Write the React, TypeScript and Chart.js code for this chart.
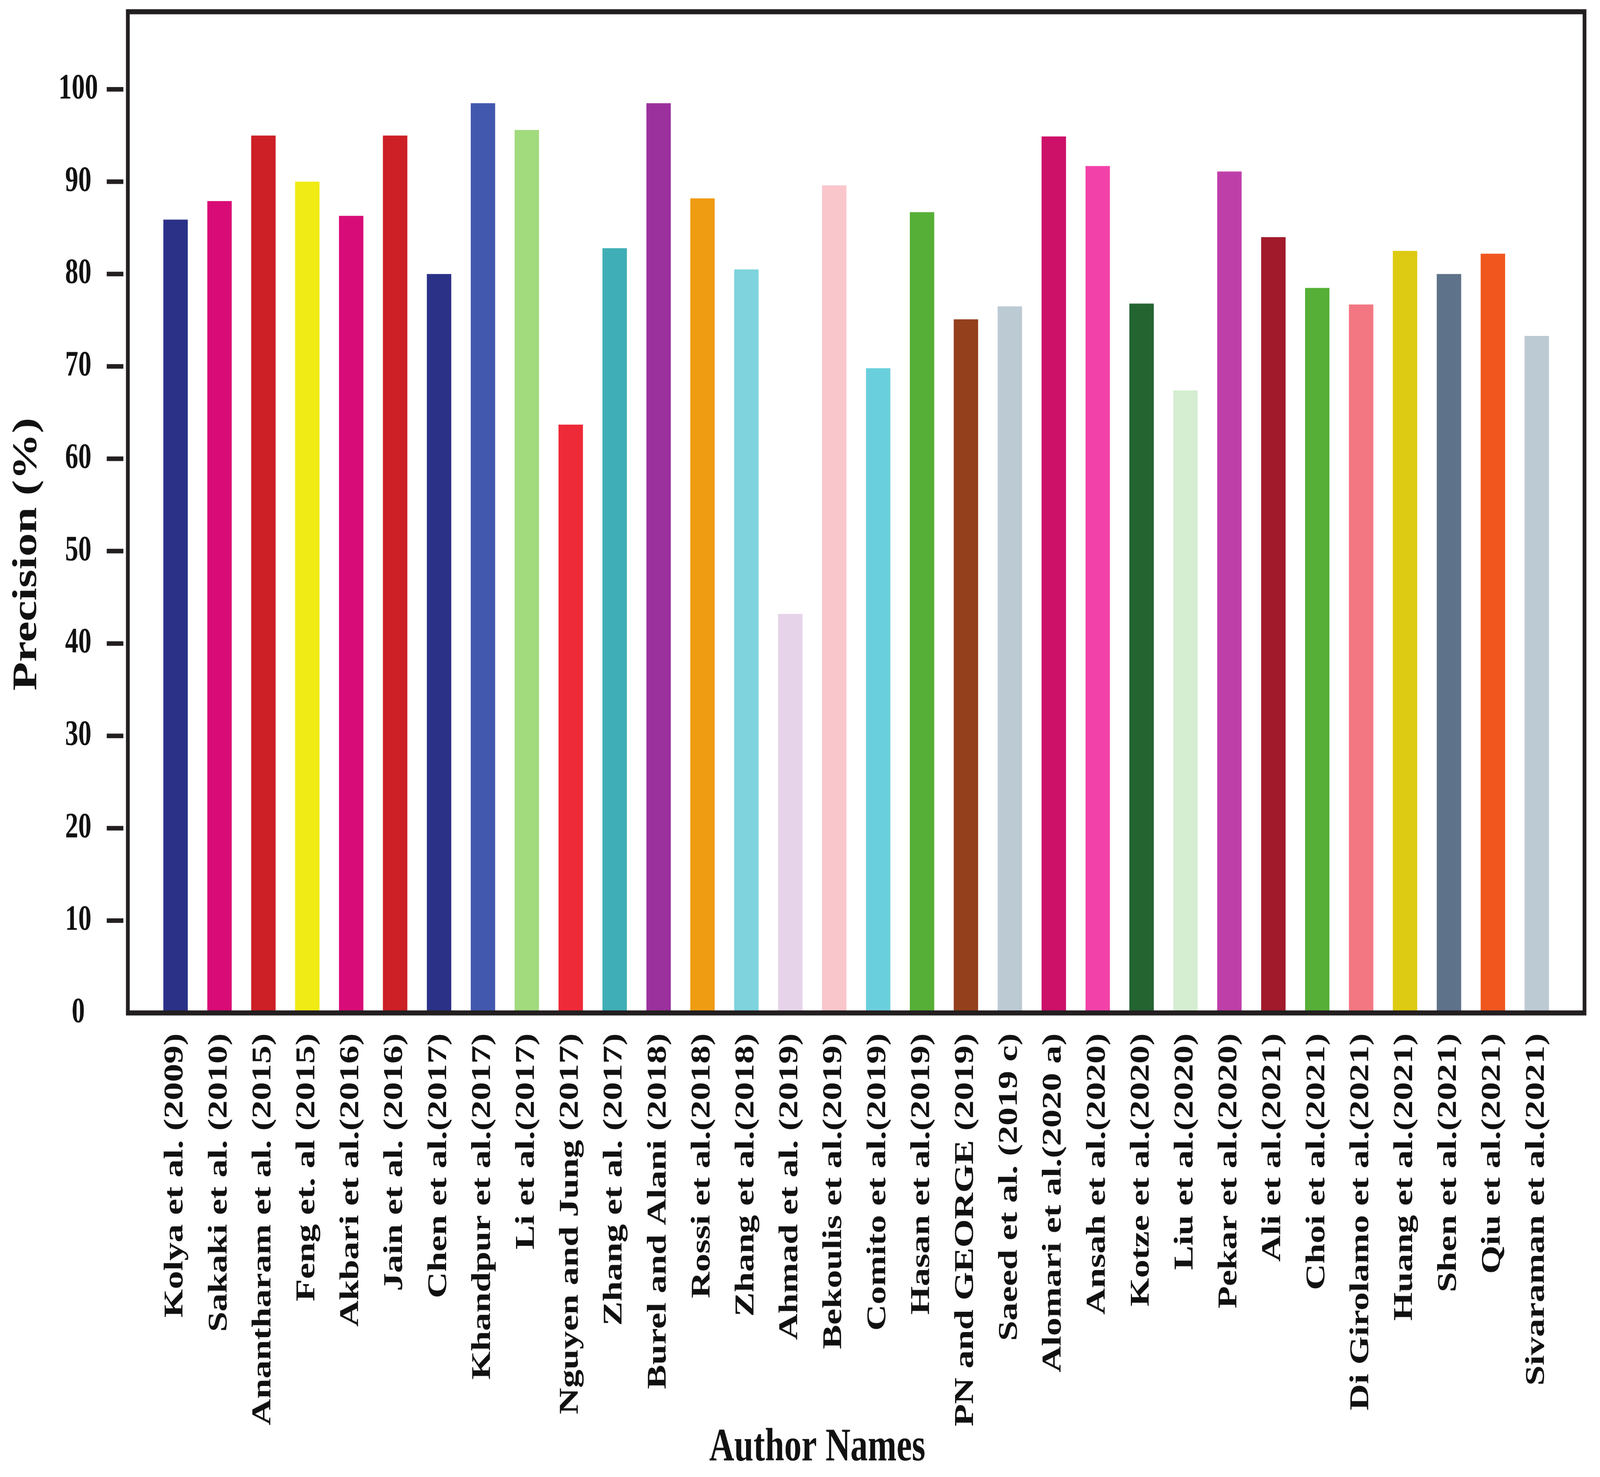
import React, { useEffect, useRef, useState } from "react";
import { Chart, registerables } from "chart.js";

Chart.register(...registerables);

const AUTHORS = [
  "Kolya et al. (2009)",
  "Sakaki et al. (2010)",
  "Anantharam et al. (2015)",
  "Feng et. al (2015)",
  "Akbari et al.(2016)",
  "Jain et al. (2016)",
  "Chen et al.(2017)",
  "Khandpur et al.(2017)",
  "Li et al.(2017)",
  "Nguyen and Jung (2017)",
  "Zhang et al. (2017)",
  "Burel and Alani (2018)",
  "Rossi et al.(2018)",
  "Zhang et al.(2018)",
  "Ahmad et al. (2019)",
  "Bekoulis et al.(2019)",
  "Comito et al.(2019)",
  "Hasan et al.(2019)",
  "PN and GEORGE (2019)",
  "Saeed et al. (2019 c)",
  "Alomari et al.(2020 a)",
  "Ansah et al.(2020)",
  "Kotze et al.(2020)",
  "Liu et al.(2020)",
  "Pekar et al.(2020)",
  "Ali et al.(2021)",
  "Choi et al.(2021)",
  "Di Girolamo et al.(2021)",
  "Huang et al.(2021)",
  "Shen et al.(2021)",
  "Qiu et al.(2021)",
  "Sivaraman et al.(2021)",
];

const PRECISION = [
  85.9, 87.9, 95.0, 90.0, 86.3, 95.0, 80.0, 98.5, 95.6, 63.7, 82.8, 98.5, 88.2,
  80.5, 43.2, 89.6, 69.8, 86.7, 75.1, 76.5, 94.9, 91.7, 76.8, 67.4, 91.1, 84.0,
  78.5, 76.7, 82.5, 80.0, 82.2, 73.3,
];

const BAR_COLORS = [
  "#2B3187", "#D90B76", "#CC1F26", "#F0EB14", "#D80C78", "#CC1F26", "#2B3187",
  "#4258AF", "#A2DA7E", "#EE2A38", "#40AEB6", "#9B319C", "#EF9C13", "#7ED3DC",
  "#E6D3E9", "#F9C6CC", "#6ACFDD", "#56AF36", "#94401D", "#BCCAD3", "#CD1068",
  "#F242A9", "#236431", "#D5EDD1", "#BE3FA8", "#A01A2B", "#56AF36", "#F27782",
  "#DDCA12", "#5E7289", "#F1561E", "#BCCAD3",
];

const Y_TICKS = [0, 10, 20, 30, 40, 50, 60, 70, 80, 90, 100];

const Y_TITLE = "Precision (%)";
const X_TITLE = "Author Names";

const SERIF = '"Liberation Serif", "Times New Roman", "DejaVu Serif", serif';
const INK = "#231F20";
const TEXT = "#111111";

const W = 4256;
const H_OUT = 3781;
const H = 2908;
const SY = H_OUT / H;

const AREA_LEFT = 408.6;
const AREA_RIGHT_PAD = 109.8;
const AREA_TOP = 23.1;
const AREA_BOTTOM = 1994.3;
const FRAME_GAP = 68.6;

const framePlugin = {
  id: "framePlugin",
  afterDraw(chart: any) {
    const { ctx, chartArea, scales } = chart;
    const yScale = scales.y;
    const left = chartArea.left - FRAME_GAP;
    const right = chartArea.right + FRAME_GAP;
    const top = chartArea.top;
    const bottom = chartArea.bottom;
    ctx.save();
    ctx.strokeStyle = INK;
    ctx.lineWidth = 10;
    ctx.lineJoin = "miter";
    ctx.strokeRect(left, top, right - left, bottom - top);

    ctx.lineWidth = 9;
    ctx.lineCap = "butt";
    for (const t of yScale.ticks) {
      if (t.value === 0) continue;
      const py = yScale.getPixelForValue(t.value);
      ctx.beginPath();
      ctx.moveTo(left - 56, py);
      ctx.lineTo(left - 12, py);
      ctx.stroke();
    }

    ctx.fillStyle = TEXT;
    ctx.font = `bold 92px ${SERIF}`;
    ctx.save();
    ctx.translate(72, 1091);
    ctx.rotate(-Math.PI / 2);
    ctx.textAlign = "center";
    ctx.textBaseline = "middle";
    ctx.fillText(Y_TITLE, 0, 0);
    ctx.restore();
    ctx.textAlign = "center";
    ctx.textBaseline = "alphabetic";
    ctx.fillText(X_TITLE, 2174, 2875);
    ctx.restore();
  },
};

function viewport() {
  if (typeof window === "undefined") return { w: W, h: H_OUT };
  const w = document.documentElement.clientWidth || window.innerWidth || W;
  const h = window.innerHeight || document.documentElement.clientHeight || H_OUT;
  return { w, h };
}

export default function App() {
  const canvasRef = useRef<HTMLCanvasElement | null>(null);
  const [vp, setVp] = useState(viewport());

  useEffect(() => {
    document.body.style.margin = "0";
    document.body.style.overflow = "hidden";
    document.documentElement.style.overflow = "hidden";
    setVp(viewport());
    const canvas = canvasRef.current;
    if (!canvas) return;
    const chart = new Chart(canvas, {
      type: "bar",
      data: {
        labels: AUTHORS,
        datasets: [
          {
            data: PRECISION,
            backgroundColor: BAR_COLORS,
            borderWidth: 0,
            barPercentage: 0.556,
            categoryPercentage: 1,
          },
        ],
      },
      options: {
        responsive: false,
        animation: false,
        devicePixelRatio: 1.5,
        layout: {
          padding: { left: 0, top: AREA_TOP, right: AREA_RIGHT_PAD, bottom: 0 },
        },
        plugins: {
          legend: { display: false },
          title: { display: false },
          tooltip: { enabled: false },
        },
        scales: {
          x: {
            type: "category",
            offset: true,
            grid: { display: false, drawTicks: false },
            border: { display: false },
            ticks: {
              autoSkip: false,
              maxRotation: 90,
              minRotation: 90,
              padding: 40,
              color: TEXT,
              font: { size: 72, weight: "bold", family: SERIF },
            },
            afterFit: (s: any) => {
              s.height = H - AREA_BOTTOM;
              s.paddingLeft = 0;
              s.paddingRight = 0;
            },
          },
          y: {
            type: "linear",
            min: 0,
            max: 108.4,
            grid: { display: false, drawTicks: false },
            border: { display: false },
            afterBuildTicks: (s: any) => {
              s.ticks = Y_TICKS.map((v) => ({ value: v }));
            },
            ticks: {
              crossAlign: "center",
              padding: 148,
              color: TEXT,
              font: { size: 70, weight: "bold", family: SERIF },
            },
            afterFit: (s: any) => {
              s.width = AREA_LEFT;
              s.paddingTop = 0;
              s.paddingBottom = 0;
            },
          },
        },
      } as any,
      plugins: [framePlugin],
    });
    return () => chart.destroy();
  }, []);

  const kx = vp.w / W;
  const ky = vp.h / H_OUT;

  return (
    <div
      style={{
        position: "fixed",
        left: 0,
        top: 0,
        width: `${vp.w}px`,
        height: `${vp.h}px`,
        overflow: "hidden",
        background: "#ffffff",
      }}
    >
      <div
        style={{
          position: "absolute",
          left: 0,
          top: 0,
          width: `${W}px`,
          height: `${H}px`,
          transform: `scale(${kx}, ${ky * SY})`,
          transformOrigin: "0 0",
        }}
      >
        <canvas ref={canvasRef} width={W} height={H} />
      </div>
    </div>
  );
}
